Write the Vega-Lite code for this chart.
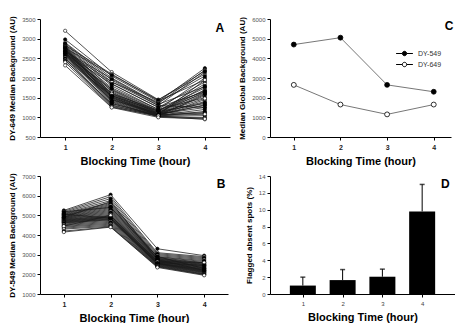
{
"$schema": "https://vega.github.io/schema/vega-lite/v6.json",
"padding": {"left": 8, "top": 15, "right": 0, "bottom": 0},
"background": "white",
"columns": 2,
"bounds": "flush",
"spacing": {"row": 39, "column": 40},
"resolve": {"scale": {"fill": "independent"}, "legend": {"fill": "independent"}},
"config": {
  "font": "Liberation Sans",
  "view": {"stroke": null},
  "axis": {"grid": false, "domainColor": "black", "tickColor": "black", "tickSize": 3, "labelFontSize": 6, "labelColor": "#555", "titleFontWeight": "bold", "titleColor": "black"},
  "axisX": {"titleFontSize": 11, "labelFontSize": 7, "labelFontWeight": "bold", "labelColor": "#222", "labelPadding": 3, "titlePadding": 5},
  "axisY": {"titleFontSize": 8, "labelPadding": 2, "titlePadding": 5}
},
"datasets": {
  "A": [
    {"s":1,"h":1,"v":3200,"g":"o"},{"s":1,"h":2,"v":2150,"g":"o"},{"s":1,"h":3,"v":1450,"g":"o"},{"s":1,"h":4,"v":2100,"g":"o"},
    {"s":2,"h":1,"v":2980,"g":"f"},{"s":2,"h":2,"v":2050,"g":"f"},{"s":2,"h":3,"v":1400,"g":"f"},{"s":2,"h":4,"v":2250,"g":"f"},
    {"s":3,"h":1,"v":2900,"g":"o"},{"s":3,"h":2,"v":2000,"g":"o"},{"s":3,"h":3,"v":1350,"g":"o"},{"s":3,"h":4,"v":2200,"g":"o"},
    {"s":4,"h":1,"v":2880,"g":"f"},{"s":4,"h":2,"v":1950,"g":"f"},{"s":4,"h":3,"v":1300,"g":"f"},{"s":4,"h":4,"v":2150,"g":"f"},
    {"s":5,"h":1,"v":2850,"g":"f"},{"s":5,"h":2,"v":1900,"g":"f"},{"s":5,"h":3,"v":1380,"g":"f"},{"s":5,"h":4,"v":2050,"g":"f"},
    {"s":6,"h":1,"v":2830,"g":"o"},{"s":6,"h":2,"v":2100,"g":"o"},{"s":6,"h":3,"v":1420,"g":"o"},{"s":6,"h":4,"v":1950,"g":"o"},
    {"s":7,"h":1,"v":2820,"g":"f"},{"s":7,"h":2,"v":1850,"g":"f"},{"s":7,"h":3,"v":1250,"g":"f"},{"s":7,"h":4,"v":1900,"g":"f"},
    {"s":8,"h":1,"v":2800,"g":"f"},{"s":8,"h":2,"v":1800,"g":"f"},{"s":8,"h":3,"v":1200,"g":"f"},{"s":8,"h":4,"v":2000,"g":"f"},
    {"s":9,"h":1,"v":2790,"g":"o"},{"s":9,"h":2,"v":1700,"g":"o"},{"s":9,"h":3,"v":1150,"g":"o"},{"s":9,"h":4,"v":1850,"g":"o"},
    {"s":10,"h":1,"v":2780,"g":"f"},{"s":10,"h":2,"v":1650,"g":"f"},{"s":10,"h":3,"v":1100,"g":"f"},{"s":10,"h":4,"v":1800,"g":"f"},
    {"s":11,"h":1,"v":2770,"g":"f"},{"s":11,"h":2,"v":1600,"g":"f"},{"s":11,"h":3,"v":1180,"g":"f"},{"s":11,"h":4,"v":1750,"g":"f"},
    {"s":12,"h":1,"v":2760,"g":"o"},{"s":12,"h":2,"v":1580,"g":"o"},{"s":12,"h":3,"v":1120,"g":"o"},{"s":12,"h":4,"v":1700,"g":"o"},
    {"s":13,"h":1,"v":2750,"g":"f"},{"s":13,"h":2,"v":1550,"g":"f"},{"s":13,"h":3,"v":1100,"g":"f"},{"s":13,"h":4,"v":1650,"g":"f"},
    {"s":14,"h":1,"v":2740,"g":"f"},{"s":14,"h":2,"v":1520,"g":"f"},{"s":14,"h":3,"v":1080,"g":"f"},{"s":14,"h":4,"v":1600,"g":"f"},
    {"s":15,"h":1,"v":2730,"g":"o"},{"s":15,"h":2,"v":1500,"g":"o"},{"s":15,"h":3,"v":1060,"g":"o"},{"s":15,"h":4,"v":1550,"g":"o"},
    {"s":16,"h":1,"v":2720,"g":"f"},{"s":16,"h":2,"v":1750,"g":"f"},{"s":16,"h":3,"v":1200,"g":"f"},{"s":16,"h":4,"v":1500,"g":"f"},
    {"s":17,"h":1,"v":2710,"g":"f"},{"s":17,"h":2,"v":1480,"g":"f"},{"s":17,"h":3,"v":1050,"g":"f"},{"s":17,"h":4,"v":1450,"g":"f"},
    {"s":18,"h":1,"v":2700,"g":"o"},{"s":18,"h":2,"v":1450,"g":"o"},{"s":18,"h":3,"v":1100,"g":"o"},{"s":18,"h":4,"v":1400,"g":"o"},
    {"s":19,"h":1,"v":2690,"g":"f"},{"s":19,"h":2,"v":1620,"g":"f"},{"s":19,"h":3,"v":1150,"g":"f"},{"s":19,"h":4,"v":1350,"g":"f"},
    {"s":20,"h":1,"v":2680,"g":"f"},{"s":20,"h":2,"v":1560,"g":"f"},{"s":20,"h":3,"v":1080,"g":"f"},{"s":20,"h":4,"v":1300,"g":"f"},
    {"s":21,"h":1,"v":2670,"g":"o"},{"s":21,"h":2,"v":1900,"g":"o"},{"s":21,"h":3,"v":1300,"g":"o"},{"s":21,"h":4,"v":1250,"g":"o"},
    {"s":22,"h":1,"v":2660,"g":"f"},{"s":22,"h":2,"v":1420,"g":"f"},{"s":22,"h":3,"v":1050,"g":"f"},{"s":22,"h":4,"v":1200,"g":"f"},
    {"s":23,"h":1,"v":2650,"g":"f"},{"s":23,"h":2,"v":1400,"g":"f"},{"s":23,"h":3,"v":1030,"g":"f"},{"s":23,"h":4,"v":1150,"g":"f"},
    {"s":24,"h":1,"v":2640,"g":"o"},{"s":24,"h":2,"v":1680,"g":"o"},{"s":24,"h":3,"v":1120,"g":"o"},{"s":24,"h":4,"v":1100,"g":"o"},
    {"s":25,"h":1,"v":2630,"g":"f"},{"s":25,"h":2,"v":1530,"g":"f"},{"s":25,"h":3,"v":1070,"g":"f"},{"s":25,"h":4,"v":1050,"g":"f"},
    {"s":26,"h":1,"v":2620,"g":"f"},{"s":26,"h":2,"v":1380,"g":"f"},{"s":26,"h":3,"v":1020,"g":"f"},{"s":26,"h":4,"v":1000,"g":"f"},
    {"s":27,"h":1,"v":2610,"g":"o"},{"s":27,"h":2,"v":1460,"g":"o"},{"s":27,"h":3,"v":1060,"g":"o"},{"s":27,"h":4,"v":1950,"g":"o"},
    {"s":28,"h":1,"v":2600,"g":"f"},{"s":28,"h":2,"v":1720,"g":"f"},{"s":28,"h":3,"v":1170,"g":"f"},{"s":28,"h":4,"v":1680,"g":"f"},
    {"s":29,"h":1,"v":2590,"g":"f"},{"s":29,"h":2,"v":1350,"g":"f"},{"s":29,"h":3,"v":1040,"g":"f"},{"s":29,"h":4,"v":1580,"g":"f"},
    {"s":30,"h":1,"v":2580,"g":"o"},{"s":30,"h":2,"v":1600,"g":"o"},{"s":30,"h":3,"v":1100,"g":"o"},{"s":30,"h":4,"v":1480,"g":"o"},
    {"s":31,"h":1,"v":2560,"g":"f"},{"s":31,"h":2,"v":1500,"g":"f"},{"s":31,"h":3,"v":1080,"g":"f"},{"s":31,"h":4,"v":1250,"g":"f"},
    {"s":32,"h":1,"v":2540,"g":"f"},{"s":32,"h":2,"v":1440,"g":"f"},{"s":32,"h":3,"v":1060,"g":"f"},{"s":32,"h":4,"v":1120,"g":"f"},
    {"s":33,"h":1,"v":2520,"g":"o"},{"s":33,"h":2,"v":1320,"g":"o"},{"s":33,"h":3,"v":1030,"g":"o"},{"s":33,"h":4,"v":980,"g":"o"},
    {"s":34,"h":1,"v":2500,"g":"f"},{"s":34,"h":2,"v":1300,"g":"f"},{"s":34,"h":3,"v":1050,"g":"f"},{"s":34,"h":4,"v":1380,"g":"f"},
    {"s":35,"h":1,"v":2480,"g":"f"},{"s":35,"h":2,"v":1550,"g":"f"},{"s":35,"h":3,"v":1150,"g":"f"},{"s":35,"h":4,"v":1620,"g":"f"},
    {"s":36,"h":1,"v":2460,"g":"o"},{"s":36,"h":2,"v":1280,"g":"o"},{"s":36,"h":3,"v":1020,"g":"o"},{"s":36,"h":4,"v":950,"g":"o"},
    {"s":37,"h":1,"v":2440,"g":"f"},{"s":37,"h":2,"v":1350,"g":"f"},{"s":37,"h":3,"v":1060,"g":"f"},{"s":37,"h":4,"v":1320,"g":"f"},
    {"s":38,"h":1,"v":2400,"g":"o"},{"s":38,"h":2,"v":1260,"g":"o"},{"s":38,"h":3,"v":1040,"g":"o"},{"s":38,"h":4,"v":1080,"g":"o"},
    {"s":39,"h":1,"v":2320,"g":"o"},{"s":39,"h":2,"v":1250,"g":"o"},{"s":39,"h":3,"v":1000,"g":"o"},{"s":39,"h":4,"v":960,"g":"o"},
    {"s":40,"h":1,"v":2760,"g":"f"},{"s":40,"h":2,"v":2080,"g":"f"},{"s":40,"h":3,"v":1440,"g":"f"},{"s":40,"h":4,"v":2180,"g":"f"},
    {"s":41,"h":1,"v":2680,"g":"f"},{"s":41,"h":2,"v":1980,"g":"f"},{"s":41,"h":3,"v":1330,"g":"f"},{"s":41,"h":4,"v":1780,"g":"f"},
    {"s":42,"h":1,"v":2620,"g":"f"},{"s":42,"h":2,"v":1850,"g":"f"},{"s":42,"h":3,"v":1260,"g":"f"},{"s":42,"h":4,"v":1650,"g":"f"}
  ],
  "B": [
    {"s":1,"h":1,"v":5250,"g":"f"},{"s":1,"h":2,"v":6050,"g":"f"},{"s":1,"h":3,"v":3300,"g":"f"},{"s":1,"h":4,"v":2950,"g":"f"},
    {"s":2,"h":1,"v":5200,"g":"o"},{"s":2,"h":2,"v":5950,"g":"o"},{"s":2,"h":3,"v":3100,"g":"o"},{"s":2,"h":4,"v":2900,"g":"o"},
    {"s":3,"h":1,"v":5150,"g":"f"},{"s":3,"h":2,"v":5850,"g":"f"},{"s":3,"h":3,"v":3050,"g":"f"},{"s":3,"h":4,"v":2850,"g":"f"},
    {"s":4,"h":1,"v":5100,"g":"f"},{"s":4,"h":2,"v":5750,"g":"f"},{"s":4,"h":3,"v":3000,"g":"f"},{"s":4,"h":4,"v":2800,"g":"f"},
    {"s":5,"h":1,"v":5080,"g":"o"},{"s":5,"h":2,"v":5650,"g":"o"},{"s":5,"h":3,"v":2950,"g":"o"},{"s":5,"h":4,"v":2750,"g":"o"},
    {"s":6,"h":1,"v":5050,"g":"f"},{"s":6,"h":2,"v":5600,"g":"f"},{"s":6,"h":3,"v":2900,"g":"f"},{"s":6,"h":4,"v":2700,"g":"f"},
    {"s":7,"h":1,"v":5020,"g":"f"},{"s":7,"h":2,"v":5550,"g":"f"},{"s":7,"h":3,"v":2880,"g":"f"},{"s":7,"h":4,"v":2650,"g":"f"},
    {"s":8,"h":1,"v":5000,"g":"o"},{"s":8,"h":2,"v":5500,"g":"o"},{"s":8,"h":3,"v":2850,"g":"o"},{"s":8,"h":4,"v":2600,"g":"o"},
    {"s":9,"h":1,"v":4980,"g":"f"},{"s":9,"h":2,"v":5450,"g":"f"},{"s":9,"h":3,"v":2820,"g":"f"},{"s":9,"h":4,"v":2580,"g":"f"},
    {"s":10,"h":1,"v":4950,"g":"f"},{"s":10,"h":2,"v":5400,"g":"f"},{"s":10,"h":3,"v":2800,"g":"f"},{"s":10,"h":4,"v":2550,"g":"f"},
    {"s":11,"h":1,"v":4920,"g":"o"},{"s":11,"h":2,"v":5350,"g":"o"},{"s":11,"h":3,"v":2780,"g":"o"},{"s":11,"h":4,"v":2520,"g":"o"},
    {"s":12,"h":1,"v":4900,"g":"f"},{"s":12,"h":2,"v":5300,"g":"f"},{"s":12,"h":3,"v":2760,"g":"f"},{"s":12,"h":4,"v":2500,"g":"f"},
    {"s":13,"h":1,"v":4880,"g":"f"},{"s":13,"h":2,"v":5250,"g":"f"},{"s":13,"h":3,"v":2740,"g":"f"},{"s":13,"h":4,"v":2480,"g":"f"},
    {"s":14,"h":1,"v":4860,"g":"o"},{"s":14,"h":2,"v":5200,"g":"o"},{"s":14,"h":3,"v":2720,"g":"o"},{"s":14,"h":4,"v":2450,"g":"o"},
    {"s":15,"h":1,"v":4840,"g":"f"},{"s":15,"h":2,"v":5150,"g":"f"},{"s":15,"h":3,"v":2700,"g":"f"},{"s":15,"h":4,"v":2430,"g":"f"},
    {"s":16,"h":1,"v":4820,"g":"f"},{"s":16,"h":2,"v":5100,"g":"f"},{"s":16,"h":3,"v":2680,"g":"f"},{"s":16,"h":4,"v":2400,"g":"f"},
    {"s":17,"h":1,"v":4800,"g":"o"},{"s":17,"h":2,"v":5050,"g":"o"},{"s":17,"h":3,"v":2660,"g":"o"},{"s":17,"h":4,"v":2380,"g":"o"},
    {"s":18,"h":1,"v":4780,"g":"f"},{"s":18,"h":2,"v":5000,"g":"f"},{"s":18,"h":3,"v":2650,"g":"f"},{"s":18,"h":4,"v":2350,"g":"f"},
    {"s":19,"h":1,"v":4760,"g":"f"},{"s":19,"h":2,"v":4980,"g":"f"},{"s":19,"h":3,"v":2640,"g":"f"},{"s":19,"h":4,"v":2330,"g":"f"},
    {"s":20,"h":1,"v":4740,"g":"o"},{"s":20,"h":2,"v":4950,"g":"o"},{"s":20,"h":3,"v":2620,"g":"o"},{"s":20,"h":4,"v":2300,"g":"o"},
    {"s":21,"h":1,"v":4720,"g":"f"},{"s":21,"h":2,"v":4920,"g":"f"},{"s":21,"h":3,"v":2600,"g":"f"},{"s":21,"h":4,"v":2280,"g":"f"},
    {"s":22,"h":1,"v":4700,"g":"f"},{"s":22,"h":2,"v":4900,"g":"f"},{"s":22,"h":3,"v":2580,"g":"f"},{"s":22,"h":4,"v":2260,"g":"f"},
    {"s":23,"h":1,"v":4680,"g":"o"},{"s":23,"h":2,"v":4880,"g":"o"},{"s":23,"h":3,"v":2570,"g":"o"},{"s":23,"h":4,"v":2240,"g":"o"},
    {"s":24,"h":1,"v":4660,"g":"f"},{"s":24,"h":2,"v":4850,"g":"f"},{"s":24,"h":3,"v":2560,"g":"f"},{"s":24,"h":4,"v":2220,"g":"f"},
    {"s":25,"h":1,"v":4640,"g":"f"},{"s":25,"h":2,"v":4820,"g":"f"},{"s":25,"h":3,"v":2550,"g":"f"},{"s":25,"h":4,"v":2200,"g":"f"},
    {"s":26,"h":1,"v":4620,"g":"o"},{"s":26,"h":2,"v":4800,"g":"o"},{"s":26,"h":3,"v":2540,"g":"o"},{"s":26,"h":4,"v":2180,"g":"o"},
    {"s":27,"h":1,"v":4600,"g":"f"},{"s":27,"h":2,"v":4780,"g":"f"},{"s":27,"h":3,"v":2530,"g":"f"},{"s":27,"h":4,"v":2160,"g":"f"},
    {"s":28,"h":1,"v":4560,"g":"f"},{"s":28,"h":2,"v":4750,"g":"f"},{"s":28,"h":3,"v":2520,"g":"f"},{"s":28,"h":4,"v":2140,"g":"f"},
    {"s":29,"h":1,"v":4520,"g":"o"},{"s":29,"h":2,"v":4700,"g":"o"},{"s":29,"h":3,"v":2500,"g":"o"},{"s":29,"h":4,"v":2120,"g":"o"},
    {"s":30,"h":1,"v":4480,"g":"f"},{"s":30,"h":2,"v":4650,"g":"f"},{"s":30,"h":3,"v":2480,"g":"f"},{"s":30,"h":4,"v":2100,"g":"f"},
    {"s":31,"h":1,"v":4440,"g":"f"},{"s":31,"h":2,"v":4600,"g":"f"},{"s":31,"h":3,"v":2460,"g":"f"},{"s":31,"h":4,"v":2080,"g":"f"},
    {"s":32,"h":1,"v":4400,"g":"o"},{"s":32,"h":2,"v":4550,"g":"o"},{"s":32,"h":3,"v":2440,"g":"o"},{"s":32,"h":4,"v":2050,"g":"o"},
    {"s":33,"h":1,"v":4350,"g":"f"},{"s":33,"h":2,"v":4500,"g":"f"},{"s":33,"h":3,"v":2420,"g":"f"},{"s":33,"h":4,"v":2020,"g":"f"},
    {"s":34,"h":1,"v":4300,"g":"o"},{"s":34,"h":2,"v":4450,"g":"o"},{"s":34,"h":3,"v":2400,"g":"o"},{"s":34,"h":4,"v":2000,"g":"o"},
    {"s":35,"h":1,"v":4200,"g":"f"},{"s":35,"h":2,"v":4420,"g":"f"},{"s":35,"h":3,"v":2380,"g":"f"},{"s":35,"h":4,"v":1980,"g":"f"},
    {"s":36,"h":1,"v":4150,"g":"o"},{"s":36,"h":2,"v":4400,"g":"o"},{"s":36,"h":3,"v":2350,"g":"o"},{"s":36,"h":4,"v":1950,"g":"o"},
    {"s":37,"h":1,"v":5180,"g":"f"},{"s":37,"h":2,"v":5400,"g":"f"},{"s":37,"h":3,"v":2900,"g":"f"},{"s":37,"h":4,"v":2300,"g":"f"},
    {"s":38,"h":1,"v":4900,"g":"f"},{"s":38,"h":2,"v":5700,"g":"f"},{"s":38,"h":3,"v":2750,"g":"f"},{"s":38,"h":4,"v":2200,"g":"f"},
    {"s":39,"h":1,"v":4450,"g":"o"},{"s":39,"h":2,"v":5000,"g":"o"},{"s":39,"h":3,"v":2650,"g":"o"},{"s":39,"h":4,"v":2600,"g":"o"},
    {"s":40,"h":1,"v":5060,"g":"f"},{"s":40,"h":2,"v":4850,"g":"f"},{"s":40,"h":3,"v":2600,"g":"f"},{"s":40,"h":4,"v":2450,"g":"f"}
  ],
  "C": [
    {"dye":"DY-549","h":1,"v":4700},{"dye":"DY-549","h":2,"v":5050},{"dye":"DY-549","h":3,"v":2650},{"dye":"DY-549","h":4,"v":2300},
    {"dye":"DY-649","h":1,"v":2650},{"dye":"DY-649","h":2,"v":1650},{"dye":"DY-649","h":3,"v":1150},{"dye":"DY-649","h":4,"v":1650}
  ],
  "D": [
    {"h":1,"pct":1.0,"upper":2.0},
    {"h":2,"pct":1.65,"upper":2.9},
    {"h":3,"pct":2.05,"upper":2.95},
    {"h":4,"pct":9.8,"upper":13.0}
  ],
  "labels": [{"panel":"A"},{"panel":"B"},{"panel":"C"},{"panel":"D"}]
},
"concat": [
  {
    "width": 190, "height": 118,
    "layer": [
      {"data": {"name": "A"}, "mark": {"type": "line", "stroke": "#1a1a1a", "strokeWidth": 0.75},
       "encoding": {
         "x": {"field": "h", "type": "quantitative", "scale": {"domain": [0.46, 4.54], "nice": false, "zero": false}, "axis": {"values": [1, 2, 3, 4], "format": "d", "title": "Blocking Time (hour)"}},
         "y": {"field": "v", "type": "quantitative", "scale": {"domain": [500, 3500], "nice": false, "zero": false}, "axis": {"values": [500, 1000, 1500, 2000, 2500, 3000, 3500], "format": "d", "title": "DY-649 Median Background (AU)"}},
         "detail": {"field": "s", "type": "nominal"}}},
      {"data": {"name": "A"}, "mark": {"type": "point", "shape": "circle", "filled": true, "size": 11, "stroke": "black", "strokeWidth": 0.6, "opacity": 1},
       "encoding": {
         "x": {"field": "h", "type": "quantitative", "axis": {"values": [1, 2, 3, 4], "format": "d", "title": "Blocking Time (hour)"}},
         "y": {"field": "v", "type": "quantitative", "axis": {"values": [500, 1000, 1500, 2000, 2500, 3000, 3500], "format": "d", "title": "DY-649 Median Background (AU)"}},
         "fill": {"field": "g", "type": "nominal", "scale": {"domain": ["f", "o"], "range": ["black", "white"]}, "legend": null}}},
      {"data": {"name": "labels"}, "transform": [{"filter": "datum.panel == 'A'"}],
       "mark": {"type": "text", "fontSize": 12, "fontWeight": "bold", "fill": "black", "align": "center", "baseline": "middle"},
       "encoding": {
         "x": {"datum": 4.32, "type": "quantitative", "axis": {"values": [1, 2, 3, 4], "format": "d", "title": "Blocking Time (hour)"}},
         "y": {"datum": 3270, "type": "quantitative", "axis": {"values": [500, 1000, 1500, 2000, 2500, 3000, 3500], "format": "d", "title": "DY-649 Median Background (AU)"}},
         "text": {"field": "panel", "type": "nominal"}}}
    ]
  },
  {
    "width": 181, "height": 118,
    "layer": [
      {"data": {"name": "C"}, "mark": {"type": "line", "stroke": "#777", "strokeWidth": 1},
       "encoding": {
         "x": {"field": "h", "type": "quantitative", "scale": {"domain": [0.49, 4.37], "nice": false, "zero": false}, "axis": {"values": [1, 2, 3, 4], "format": "d", "title": "Blocking Time (hour)"}},
         "y": {"field": "v", "type": "quantitative", "scale": {"domain": [0, 6000], "nice": false}, "axis": {"values": [0, 1000, 2000, 3000, 4000, 5000, 6000], "format": "d", "title": "Median Global Background (AU)"}},
         "detail": {"field": "dye", "type": "nominal"}}},
      {"data": {"name": "C"}, "mark": {"type": "point", "shape": "circle", "filled": true, "size": 24, "stroke": "black", "strokeWidth": 0.8, "opacity": 1},
       "encoding": {
         "x": {"field": "h", "type": "quantitative", "axis": {"values": [1, 2, 3, 4], "format": "d", "title": "Blocking Time (hour)"}},
         "y": {"field": "v", "type": "quantitative", "axis": {"values": [0, 1000, 2000, 3000, 4000, 5000, 6000], "format": "d", "title": "Median Global Background (AU)"}},
         "fill": {"field": "dye", "type": "nominal", "scale": {"domain": ["DY-549", "DY-649"], "range": ["black", "white"]},
         "legend": {"title": null, "orient": "none", "legendX": 130, "legendY": 30, "symbolType": "M-2.1,0L-0.55,0M0.55,0L2.1,0M-0.55,0A0.55,0.55 0 1 1 0.55,0A0.55,0.55 0 1 1 -0.55,0Z", "symbolSize": 64, "symbolStrokeColor": "black", "symbolStrokeWidth": 1, "labelOffset": 9, "labelFontSize": 7, "labelColor": "#333", "rowPadding": 2}}}},
      {"data": {"name": "labels"}, "transform": [{"filter": "datum.panel == 'C'"}],
       "mark": {"type": "text", "fontSize": 12, "fontWeight": "bold", "fill": "black", "align": "center", "baseline": "middle"},
       "encoding": {
         "x": {"datum": 4.33, "type": "quantitative", "axis": {"values": [1, 2, 3, 4], "format": "d", "title": "Blocking Time (hour)"}},
         "y": {"datum": 5640, "type": "quantitative", "axis": {"values": [0, 1000, 2000, 3000, 4000, 5000, 6000], "format": "d", "title": "Median Global Background (AU)"}},
         "text": {"field": "panel", "type": "nominal"}}}
    ]
  },
  {
    "width": 188, "height": 118,
    "layer": [
      {"data": {"name": "B"}, "mark": {"type": "line", "stroke": "#1a1a1a", "strokeWidth": 0.75},
       "encoding": {
         "x": {"field": "h", "type": "quantitative", "scale": {"domain": [0.49, 4.51], "nice": false, "zero": false}, "axis": {"values": [1, 2, 3, 4], "format": "d", "title": "Blocking Time (hour)"}},
         "y": {"field": "v", "type": "quantitative", "scale": {"domain": [1000, 7000], "nice": false, "zero": false}, "axis": {"values": [1000, 2000, 3000, 4000, 5000, 6000, 7000], "format": "d", "title": "DY-549 Median Background (AU)"}},
         "detail": {"field": "s", "type": "nominal"}}},
      {"data": {"name": "B"}, "mark": {"type": "point", "shape": "circle", "filled": true, "size": 11, "stroke": "black", "strokeWidth": 0.6, "opacity": 1},
       "encoding": {
         "x": {"field": "h", "type": "quantitative", "axis": {"values": [1, 2, 3, 4], "format": "d", "title": "Blocking Time (hour)"}},
         "y": {"field": "v", "type": "quantitative", "axis": {"values": [1000, 2000, 3000, 4000, 5000, 6000, 7000], "format": "d", "title": "DY-549 Median Background (AU)"}},
         "fill": {"field": "g", "type": "nominal", "scale": {"domain": ["f", "o"], "range": ["black", "white"]}, "legend": null}}},
      {"data": {"name": "labels"}, "transform": [{"filter": "datum.panel == 'B'"}],
       "mark": {"type": "text", "fontSize": 12, "fontWeight": "bold", "fill": "black", "align": "center", "baseline": "middle"},
       "encoding": {
         "x": {"datum": 4.36, "type": "quantitative", "axis": {"values": [1, 2, 3, 4], "format": "d", "title": "Blocking Time (hour)"}},
         "y": {"datum": 6590, "type": "quantitative", "axis": {"values": [1000, 2000, 3000, 4000, 5000, 6000, 7000], "format": "d", "title": "DY-549 Median Background (AU)"}},
         "text": {"field": "panel", "type": "nominal"}}}
    ]
  },
  {
    "width": 185, "height": 118,
    "layer": [
      {"data": {"name": "D"}, "mark": {"type": "bar", "color": "black", "size": 26},
       "encoding": {
         "x": {"field": "h", "type": "quantitative", "scale": {"domain": [0.3, 4.7], "nice": false, "zero": false}, "axis": {"values": [1, 2, 3, 4], "format": "d", "title": "Blocking Time (hour)", "labelFontWeight": "normal", "labelColor": "#444", "labelFontSize": 6}},
         "y": {"field": "pct", "type": "quantitative", "scale": {"domain": [0, 14], "nice": false, "zero": true}, "axis": {"values": [0, 2, 4, 6, 8, 10, 12, 14], "format": "d", "title": "Flagged absent spots (%)"}}}},
      {"data": {"name": "D"}, "mark": {"type": "rule", "color": "black", "strokeWidth": 1},
       "encoding": {
         "x": {"field": "h", "type": "quantitative", "axis": {"values": [1, 2, 3, 4], "format": "d", "title": "Blocking Time (hour)", "labelFontWeight": "normal", "labelColor": "#444", "labelFontSize": 6}},
         "y": {"field": "pct", "type": "quantitative", "axis": {"values": [0, 2, 4, 6, 8, 10, 12, 14], "format": "d", "title": "Flagged absent spots (%)"}},
         "y2": {"field": "upper"}}},
      {"data": {"name": "D"}, "mark": {"type": "tick", "orient": "horizontal", "color": "black", "size": 5, "thickness": 1.5},
       "encoding": {
         "x": {"field": "h", "type": "quantitative", "axis": {"values": [1, 2, 3, 4], "format": "d", "title": "Blocking Time (hour)", "labelFontWeight": "normal", "labelColor": "#444", "labelFontSize": 6}},
         "y": {"field": "upper", "type": "quantitative", "axis": {"values": [0, 2, 4, 6, 8, 10, 12, 14], "format": "d", "title": "Flagged absent spots (%)"}}}},
      {"data": {"name": "labels"}, "transform": [{"filter": "datum.panel == 'D'"}],
       "mark": {"type": "text", "fontSize": 12, "fontWeight": "bold", "fill": "black", "align": "center", "baseline": "middle"},
       "encoding": {
         "x": {"datum": 4.58, "type": "quantitative", "axis": {"values": [1, 2, 3, 4], "format": "d", "title": "Blocking Time (hour)", "labelFontWeight": "normal", "labelColor": "#444", "labelFontSize": 6}},
         "y": {"datum": 13.05, "type": "quantitative", "axis": {"values": [0, 2, 4, 6, 8, 10, 12, 14], "format": "d", "title": "Flagged absent spots (%)"}},
         "text": {"field": "panel", "type": "nominal"}}}
    ]
  }
]
}
